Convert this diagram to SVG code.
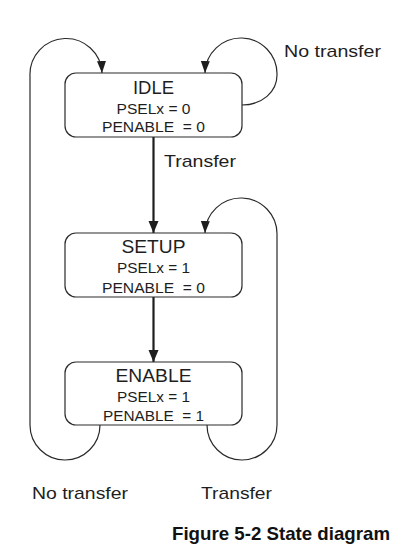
<svg xmlns="http://www.w3.org/2000/svg" width="408" height="559" viewBox="0 0 408 559">
<style>
.box{fill:#fff;stroke:#2a2a2a;stroke-width:1.2}
.t{font-family:"Liberation Sans",Arial,sans-serif;fill:#1e1e1e;text-anchor:middle}
.name{font-size:18px}
.val{font-size:14px}
.lbl{font-family:"Liberation Sans",Arial,sans-serif;fill:#1e1e1e;font-size:17px}
.cap{font-family:"Liberation Sans",Arial,sans-serif;fill:#111;font-size:18.5px;font-weight:bold}
.thin{fill:none;stroke:#2a2a2a;stroke-width:1.2}
.thick{fill:none;stroke:#1e1e1e;stroke-width:2.2}
</style>
<defs>
<marker id="ah" markerUnits="userSpaceOnUse" markerWidth="14" markerHeight="12" refX="12" refY="5" orient="auto">
<path d="M0,0 L12,5 L0,10 Z" fill="#1e1e1e"/>
</marker>
<marker id="ahs" markerUnits="userSpaceOnUse" markerWidth="14" markerHeight="12" refX="12" refY="4.5" orient="auto">
<path d="M0,0 L12,4.5 L0,9 Z" fill="#1e1e1e"/>
</marker>
</defs>
<g id="connectors">
<path class="thick" d="M153.5,137 L153.5,233" marker-end="url(#ah)"/>
<path class="thick" d="M153.5,297 L153.5,362" marker-end="url(#ah)"/>
<path class="thin" d="M100,425 A35,35 0 0 1 30,425 L30,76 A36,36 0 0 1 102,73" marker-end="url(#ahs)"/>
<path class="thin" d="M242,105 C262,105 277,92 277,75 A36,36 0 0 0 205,73" marker-end="url(#ahs)"/>
<path class="thin" d="M207,425 A35,35 0 0 0 277,425 L277,235 A36,36 0 0 0 205,233" marker-end="url(#ahs)"/>
</g>
<g id="idle">
<rect class="box" x="65" y="73" width="177" height="64" rx="11"/>
<text class="t name" x="153.5" y="94" textLength="41" lengthAdjust="spacingAndGlyphs">IDLE</text>
<text class="t val" x="153.5" y="114" textLength="74" lengthAdjust="spacingAndGlyphs">PSELx = 0</text>
<text class="t val" x="153.5" y="132" textLength="103" lengthAdjust="spacingAndGlyphs" xml:space="preserve">PENABLE  = 0</text>
</g>
<g id="setup">
<rect class="box" x="65" y="233" width="177" height="64" rx="11"/>
<text class="t name" x="153.5" y="253" textLength="64" lengthAdjust="spacingAndGlyphs">SETUP</text>
<text class="t val" x="153.5" y="273" textLength="73" lengthAdjust="spacingAndGlyphs">PSELx = 1</text>
<text class="t val" x="153.5" y="293" textLength="103" lengthAdjust="spacingAndGlyphs" xml:space="preserve">PENABLE  = 0</text>
</g>
<g id="enable">
<rect class="box" x="65" y="362" width="177" height="63" rx="11"/>
<text class="t name" x="153.5" y="382" textLength="76" lengthAdjust="spacingAndGlyphs">ENABLE</text>
<text class="t val" x="153.5" y="402" textLength="73" lengthAdjust="spacingAndGlyphs">PSELx = 1</text>
<text class="t val" x="153.5" y="421" textLength="101" lengthAdjust="spacingAndGlyphs" xml:space="preserve">PENABLE  = 1</text>
</g>
<g id="labels">
<text class="lbl" x="284" y="57" textLength="97" lengthAdjust="spacingAndGlyphs">No transfer</text>
<text class="lbl" x="164" y="167" textLength="72" lengthAdjust="spacingAndGlyphs">Transfer</text>
<text class="lbl" x="32" y="499" textLength="96" lengthAdjust="spacingAndGlyphs">No transfer</text>
<text class="lbl" x="201" y="499" textLength="71" lengthAdjust="spacingAndGlyphs">Transfer</text>
<text class="cap" x="172" y="540" textLength="218" lengthAdjust="spacingAndGlyphs">Figure 5-2 State diagram</text>
</g>
</svg>
